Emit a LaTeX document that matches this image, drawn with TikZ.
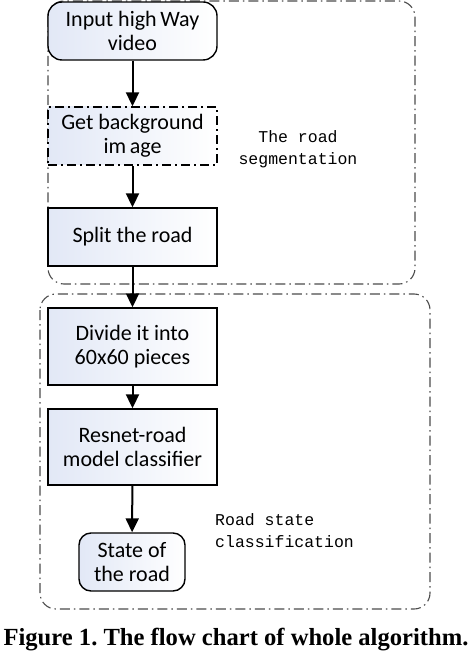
\documentclass[tikz,border=0pt]{standalone}
\usepackage{fontspec}
\setmainfont{Liberation Serif}
\newfontfamily\boxfont{Carlito}
\newfontfamily\labfont{Liberation Mono}
\usetikzlibrary{arrows.meta}
\definecolor{tint}{RGB}{226,232,246}
\begin{document}
\frenchspacing
\begin{tikzpicture}[x=1pt,y=-1pt,
  box/.style={draw=black,line width=1.4pt,minimum width=169pt,inner sep=0pt,
    align=center,font=\boxfont\fontsize{22}{24.5}\selectfont,
    shading=axis,shading angle=130,left color=tint,right color=white},
  grp/.style={draw=black!70,line width=1.1pt,rounded corners=16pt,
    dash pattern=on 10pt off 4pt on 1.5pt off 4pt},
  lab/.style={font=\labfont\fontsize{16.5}{22}\selectfont,inner sep=0pt},
  arr/.style={line width=2pt,-{Triangle[width=13pt,length=14pt]}}]
\useasboundingbox (0,0) rectangle (470,660);
\draw[grp] (48,1) rectangle (415,284);
\draw[grp] (40,294) rectangle (430,609);
\node[box,rounded corners=14pt,minimum height=58pt] (n1) at (132.5,31) {Input high\,Way\\video};
\node[box,line width=1.4pt,dash pattern=on 9pt off 4pt on 2pt off 4pt,minimum height=58pt] (n2) at (132.5,136) {Get background\\im\,age};
\node[box,minimum height=58pt] (n3) at (132.5,237) {Split the road};
\node[box,minimum height=77pt] (n4) at (132.5,346.5) {Divide it into\\60x60 pieces};
\node[box,minimum height=76pt] (n5) at (132.5,447) {Resnet-road\\model classifier};
\node[box,rounded corners=12pt,minimum width=106pt,minimum height=58pt] (n6) at (132,562) {State of\\the road};
\node[lab,align=center] (l1) at (298,149) {The road\\segmentation};
\node[lab,align=left,anchor=west] (l2) at (215,531) {Road state\\classification};
\node[font=\bfseries\fontsize{24.6}{26}\selectfont,inner sep=0pt] (cap) at (236,640) {Figure 1. The flow chart of whole algorithm.};
\draw[arr] (n1) -- (n2);
\draw[arr] (n2) -- (n3);
\draw[arr] (n3) -- (n4);
\draw[arr] (n4) -- (n5);
\draw[arr] (n5) -- (n6);
\end{tikzpicture}
\end{document}
